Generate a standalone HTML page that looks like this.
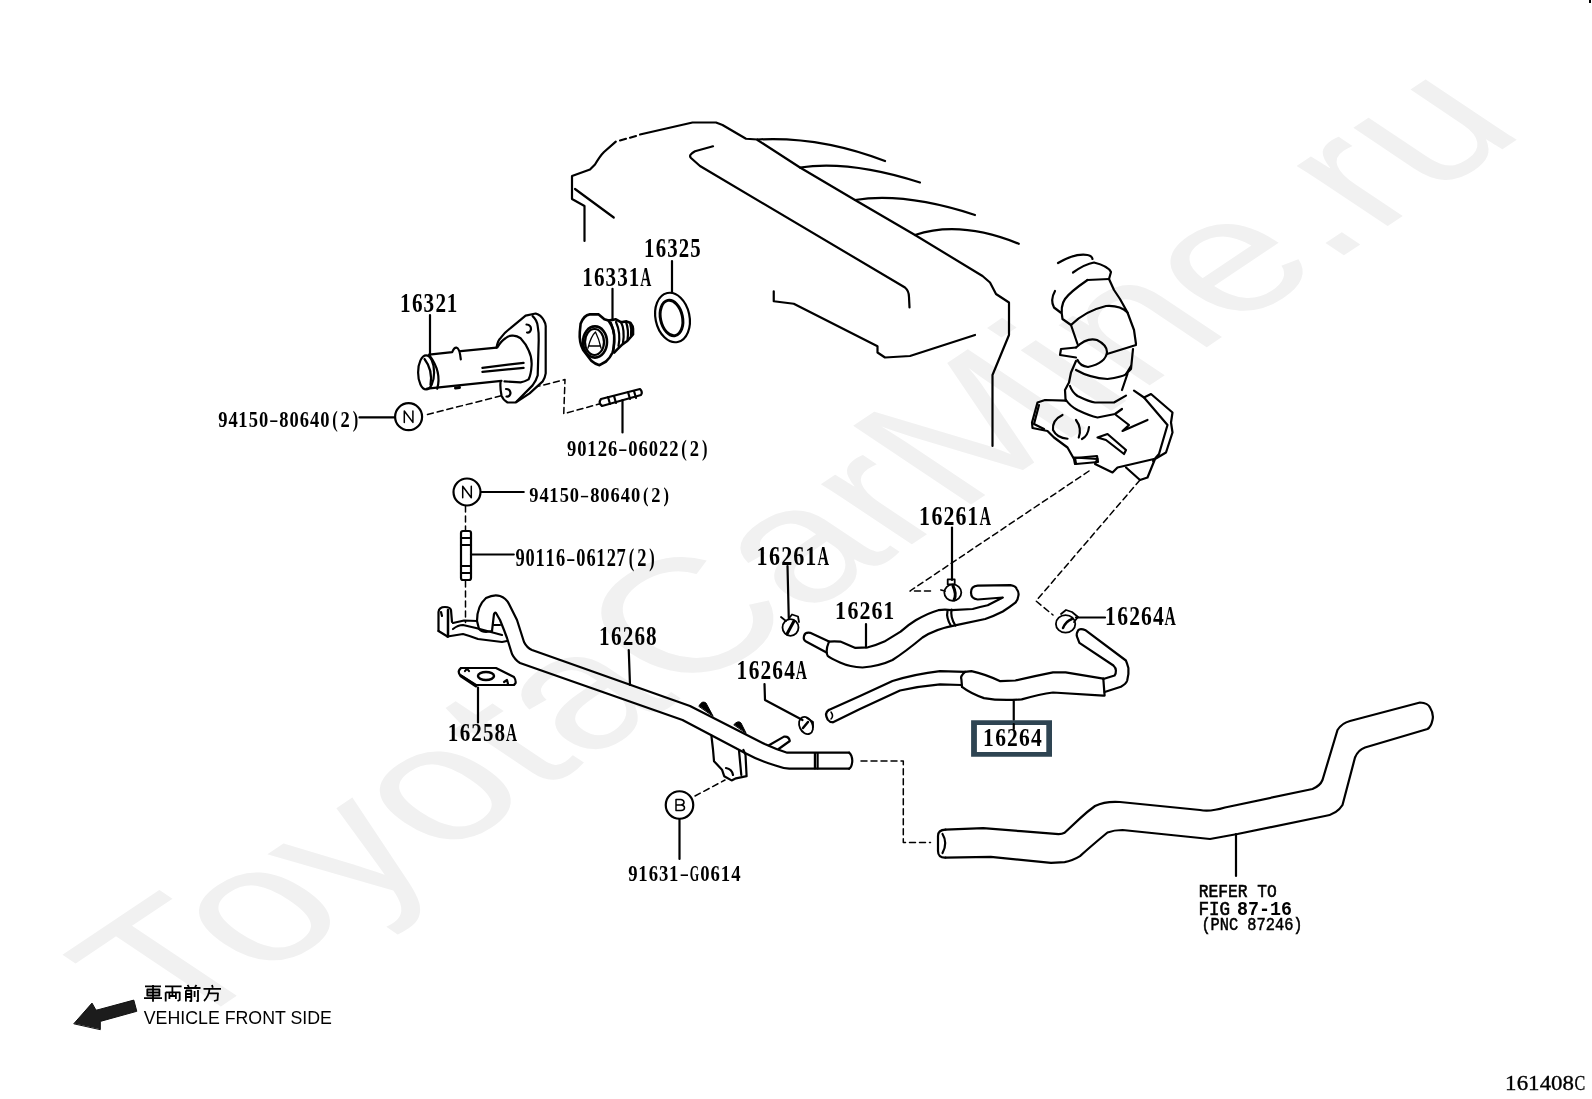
<!DOCTYPE html>
<html><head><meta charset="utf-8"><style>
html,body{margin:0;padding:0;background:#fff;width:1592px;height:1099px;overflow:hidden}
svg{display:block;will-change:transform}
</style></head><body>
<svg width="1592" height="1099" viewBox="0 0 1592 1099">
<rect width="1592" height="1099" fill="#fff"/>
<text transform="matrix(0.69903,-0.46749,0.69903,0.46749,176.55,1035.98)" font-family="Liberation Sans" font-size="245" fill="#f1f1f1">ToyotaCarMine.ru</text>

<g fill="none" stroke="#000" stroke-width="2.2" stroke-linejoin="round" stroke-linecap="round">
<!-- ENGINE OUTLINE -->
<path d="M584.5,241 L584.5,206 L572,199 L572,176 L590,169.5 L595,164.5 Q600,156 604,152 L615.8,141.7 M620,140.5 L626,138.8 M630,137.7 L636,136 M640,134.5 L692.5,122.5 L716,122.5 L722.5,125 L746,138.75 L757.5,139.5"/>
<path d="M757.5,139.5 Q820,136 885,161"/>
<path d="M575,189 L613.75,217.5"/>
<path d="M713,146.25 L695,151.25 Q688,155 691,158 L700,166 L905,287.5 Q909,291 909,297 L909.5,307.5"/>
<path d="M757.5,140 L800,167.5 L855,200 L915,235 L982.5,276 L990,282.5 L996,294 L1009,302.5 L1009,335 L992.5,375 L992.5,446"/>
<path d="M800,167.5 Q850,160 920,182.5"/>
<path d="M855,200 Q905,192 975,215"/>
<path d="M915,235 Q960,220 1018.75,243.75"/>
<path d="M773.75,291.25 L773.75,301.25 L793.75,303.75 L877.5,346.25 L877.5,352.5 L885,357.5 L910,356 L975,335"/>

<!-- WATER OUTLET (upper) -->
<path d="M1058,263 Q1075,253 1087.5,255 Q1092,256 1092.5,259"/>
<path d="M1073,272.5 Q1085,264 1094,262.5 Q1108,266 1111,272 L1109,279"/>
<path d="M1087.5,280 L1109,279"/>
<path d="M1087.5,280 Q1070,292 1065,299 Q1060,306 1062.5,319 L1071,325 L1077.5,344"/>
<path d="M1055,291 Q1050,300 1054,307.5 L1060.6,312.5"/>
<path d="M1109,279 L1114,290 L1120,299 L1127.5,312.5 L1134,330 L1136,344"/>
<path d="M1071,325 Q1085,311 1106,306 Q1120,305 1127.5,312.5"/>
<path d="M1076,347.5 Q1087,337 1097,340 Q1107,345 1107,352 Q1106,363 1088,367 Q1080,366 1077.5,360"/>
<path d="M1076,347.5 L1061,349 L1060,355 L1076,357.5"/>
<path d="M1107,354 L1136,345"/>
<path d="M1133,349 L1131,369 L1126,374"/>
<path d="M1076,361 L1071,372.5 L1069,382.5 L1065,390 L1065.6,400.6"/>
<!-- WATER OUTLET (lower) -->
<path d="M1076,370 Q1090,378 1107.5,379 Q1122,377 1126,374.4 L1131,366"/>
<path d="M1127.5,373.75 L1122,390"/>
<path d="M1070,386 Q1072,392 1077.5,396 Q1090,402 1095,402.5 L1114,402.5 L1126,395.6"/>
<path d="M1066,400 Q1070,406 1077.5,410 Q1090,416 1097.5,417.5 L1115,414 L1122,409"/>
<path d="M1066,400.6 L1045,400 L1037.5,402.5 L1032,422.5 L1032.5,428 L1047.5,431 L1054,437.5 L1067.5,447.5 L1074,459 L1075,464"/>
<path d="M1039,405 L1034,424 L1044,429"/>
<path d="M1062.5,415 Q1052,420 1053,430 Q1057,438 1067.5,438.75"/>
<path d="M1076,420 Q1082,428 1078.75,437.5 M1089,427 Q1088,436 1082,439"/>
<path d="M1074,457.5 L1097.5,459 L1095,464 L1112.5,472.5 L1117.5,467.5 L1154,459"/>
<path d="M1134,390.6 L1144,397.5 L1151,394 L1172.5,412.5 L1171,422.5 L1172.5,432.5 L1166,452.5 L1155,459 L1147.5,477.5 L1140,480 L1126,467.5"/>
<path d="M1144,397.5 L1167.5,425 L1159,454 L1153,461"/>
<path d="M1097.5,437.5 L1107.5,434 L1126,450 L1124,454 L1106,440 Z"/>
<path d="M1116,415 L1129,425 L1122.5,431 L1147.5,420"/>
<path d="M1075,458 L1097,456 L1098,462 L1076,464 Z"/>

<!-- DASHED LINES -->
<g stroke-dasharray="6,4" stroke-width="1.5">
<path d="M1089,471 L910,591 L932,591"/>
<path d="M1140,480 L1036,601 L1053,615"/>
<path d="M427.5,414.5 L565,379.5 L563.75,413.75 L600,403.75"/>
<path d="M465.5,506 L465.5,531"/>
<path d="M465.5,581 L465.5,622.5"/>
<path d="M695,796 L725,780"/>
<path d="M861,761 L903.3,761 L903.3,842.5 L930.5,842.5"/>
</g>

<!-- 16321 WATER INLET -->
<path fill="#fff" d="M496.5,347.7 Q498,340 500.5,338.2 Q505,332 510.5,328.1 L525.6,315.6 L535.7,313.5 Q541,315 543.7,320.1 Q546,324 545.7,327.1 L545.7,373.3 Q545,378 542.7,381.4 L529.6,393.4 L515.6,402.5 L507.5,402.5 Q503,400 501.5,395.5 Q500,388 500.5,382.4"/>
<ellipse cx="426.1" cy="372.4" rx="8" ry="17"/>
<path d="M429.5,355.3 Q442,372 437.2,388.8"/>
<path d="M424.5,359 Q433,370 430.5,385"/>
<path d="M429.1,354.7 L452.2,352.2 Q454,347.5 456.5,347.7 Q459.5,348 460.8,359.3 M460.8,351.2 L496.5,347.7"/>
<path d="M427.1,388.6 L501.5,380.9"/>
<path d="M455.5,388 L459.5,387.5" stroke-width="3"/>
<path d="M482.4,367.8 L523.6,362.8 M482.4,371.8 L523.6,367.8"/>
<path d="M532.6,316.1 Q537,320 537.7,326.1 Q539,333 538.7,340.2 L537.7,375.4 Q536,381 532.6,385.4 L516.6,401.5"/>
<path d="M497.5,347.2 Q501,341 505.5,338.2 Q509,335 513.5,335.7 Q517,336 520.6,338.2 Q526,344 528.6,350.2 Q532,357 531.6,365.3 Q531,375 528.6,379.4 Q524,382 520.6,382.4 L504.5,381.4"/>
<path d="M526.5,324.5 Q531,325 531,329 Q530.5,333 527,332.5"/>
<path d="M506,389 Q510,389 510.5,393 Q510,397 506.5,396.5"/>

<!-- 16331A THERMOSTAT -->
<g stroke-width="2.6">
<path d="M580.6,323.8 Q584,315 589.7,314.4 L598.7,314.4 L604.4,319.3 L608.5,320.6 Q615,330 614.2,339.4 Q614,348 612.6,352.5 Q610,358 606,361.5 L599.5,365.2 Q595,364 591.3,360.7 L583.1,350 Q579,342 579.8,332 Z"/>
<ellipse cx="595" cy="342" rx="12" ry="15.6"/>
<path d="M608.5,320.6 L615.9,319.3 L620.8,322.2 L626.5,321.4 L630.6,323 Q633,326 633,328.8 L633,334.5 L627.3,341 L622.4,344.3 L617.5,349.2 L614.2,352.5"/>
</g>
<ellipse cx="594.5" cy="342" rx="9.5" ry="13"/>
<path d="M588,348 Q591,336 595.5,332 Q599,339 601,348 M589.5,346 L599.5,346" stroke-width="1.3"/>
<path d="M611,323 Q616,335 613.5,349 M616,322 Q621,333 618.5,346 M621,322 Q625,330 623,343 M626,322 Q629,330 627.5,340 M630,323 Q632,329 631,336"/>

<!-- 16325 GASKET -->
<ellipse cx="672.5" cy="317.5" rx="17" ry="25" transform="rotate(-12 672.5 317.5)"/>
<ellipse cx="671.5" cy="318" rx="11" ry="18" transform="rotate(-12 671.5 318)" stroke-width="3"/>

<!-- STUD 90126 -->
<path d="M601,399 L640,389 Q643,392 641,395 L602,406 Q598,403 601,399 Z"/>
<path d="M608,397 L610,404 M614,396 L616,403 M628,392 L630,399 M634,391 L636,398"/>

<!-- N circles, B circle -->
<circle cx="408.6" cy="416.7" r="13.5"/>
<circle cx="467" cy="492" r="13.5"/>
<circle cx="679.5" cy="805" r="13.75"/>
<path d="M359.5,417.4 L395,417.4"/>
<path d="M481,492 L523.75,492"/>
<path d="M679.5,819 L679.5,859"/>

<!-- STUD 90116 -->
<rect x="461" y="531" width="10" height="49" rx="2"/>
<path d="M461,538 L471,538 M461,545 L471,545 M461,566 L471,566 M461,573 L471,573"/>
<path d="M471,554.5 L513.75,554.5"/>

<!-- Leaders -->
<path d="M430,315 L430,355"/>
<path d="M612.5,288.75 L612.5,320"/>
<path d="M672,261 L672,292.5"/>
<path d="M622.5,400 L622.5,432.5"/>
<path d="M787.5,566 L788.75,617.5"/>
<path d="M764.5,684 L765,700 L802.5,720"/>
<path d="M628.75,650 L630,685"/>
<path d="M478,687.5 L478,722.5"/>
<path d="M952,527.5 L952,580"/>
<path d="M866,624 L866,647.5"/>
<path d="M1076,617.5 L1105,617.5"/>
<path d="M1013.75,701 L1013.75,720"/>
<path d="M1236,834 L1236,876"/>

<!-- 16268 PIPE -->
<path d="M477,621 Q477,606 486,598 Q494,594 500,596 Q506,598 509,604 L517,620 L524,642 Q527,648 532,650 L690,706 L764.7,744.1 Q775,749 787.2,752.7 L849.1,752.7"/>
<path d="M477,621 L479,629 Q482,632 486,632 L492,631 L494,614 Q495,612 496,613 L500,620 L504,630 L507,638 L512,654 Q515,660 520,663 L682.5,720 L745.5,753.2 Q760,761 775.4,765.5 Q782,768 789.3,768.7 L849.1,768.7"/>
<path d="M849.1,752.7 Q852,755 852.3,760.7 Q852,767 849.1,768.7"/>
<path d="M814.9,753 L814.9,768.5 M817.6,753 L817.6,768.5"/>
<path d="M494,625 L500,625"/>
<path d="M699,706 Q702,700 706,703 L713,716 Z M734,724.5 Q738,720 741,723 L746,733 Z" fill="#000" stroke-width="1"/>
<path d="M769,745.2 L784,736.6 Q789,736 789.8,741 L778.6,749"/>
<path d="M711.4,735.6 L713,749.5 L714,761.2 L722,769.7 L724.2,776.2 L731.6,780.4 L736,778.3 L746.6,776.2 L745.5,754.8 L743.4,750"/>
<path d="M739,750.5 L741.3,775 M726,768 Q732,769 733,775"/>
<!-- bracket -->
<path d="M438.5,631 L438.5,612 Q439,607 445,607 Q450,607 451,610 L452,622"/>
<path d="M448,610 L448,636.5" stroke-width="2.5"/>
<path d="M438.5,631 L447.5,636.5 M441,612 L442,616"/>
<path d="M453,623 L464,620.5 L477,621"/>
<path d="M453,629 Q458,625 463,625 L476,628 L502,635"/>
<path d="M447.5,636.5 L463,634 Q470,636 478,639 L502,642 L507,641"/>

<!-- 16258A GASKET -->
<path d="M460,675 Q457,671 461,668 L496,668 L514,677 Q516,680 515.6,683 L514,685 L476,685 Z"/>
<path d="M461,676 L476,686" stroke-width="3"/>
<ellipse cx="486" cy="676" rx="8" ry="4" stroke-width="2.5"/>
<path d="M465,671 Q467,668 469,671 M504,682 L507,680 L508,684"/>

<!-- 16261 HOSE -->
<path d="M829,641.6 Q834,641 840.3,641.6 L855.4,647.9 L868,647.3 Q877,645 884.3,641.6 L900.6,631.6 Q908,625 915.7,620.3 Q928,613 938.3,610.2 Q945,609 951.3,610.2 L972.7,609 Q980,607 987.7,605.2 L1002.8,597.5 L977.7,599.5 Q971,599 971,592.6 Q971,586 977.7,585.7 L1010.4,585.1 Q1016,586 1016.6,588.8 Q1019,592 1018.5,595.1 Q1018,600 1015.4,602.7 Q1010,607 1002.8,611.5 Q994,616 985.2,619 L955,625.3 Q935,629 922.5,637.5 Q905,652 892.5,660 Q880,666 862.5,667.5 Q850,667 840,662.5 Q830,658 827.8,656 Q825,651 829,641.6"/>
<path d="M947.5,611 Q946,618 951,625.8 M951.6,609.5 Q950,617 955.4,625.5"/>
<path d="M829,641.6 L810.2,632.8 Q805,632 804,636 Q803,640 806,641.5 L826.5,652.5"/>

<!-- 16264 HOSE -->
<path d="M828.8,710 L860,696 L892.5,681 Q915,674 940,671.1 L965.1,671.8"/>
<path d="M833,722.2 L860,708.9 L900,690.5 Q920,686 940,684.3 L961.4,685"/>
<path d="M828.8,710 Q824,713 827.7,719.6 Q830,722.5 833,722.2"/>
<path d="M831,712 Q834,716 831,719" stroke-width="1.5"/>
<path d="M965.1,671.8 L971.4,671.1 Q985,674 1000.3,681.2 L1015.4,680.5 Q1035,676 1053,672.4 L1065.6,672.4 L1103.3,678.7"/>
<path d="M962,686.8 Q970,693 984,698.1 Q1000,701 1021.7,699.4 Q1040,694 1053,692.5 L1103.3,695.6"/>
<path d="M965.1,671.8 Q960,676 961.4,679.3 L962,686.8"/>
<path d="M1103.3,678.7 L1104.6,695.6"/>
<path d="M1104.6,692 L1120.9,686.8 Q1126,684 1127.2,680.5 Q1129,674 1128.4,668 Q1127,663 1125.9,660.5 L1085.7,630.3 Q1080,628 1078.2,630.3 Q1076,634 1077,636.6 L1079.4,642.9 L1113.4,665.5 Q1116,668 1115.9,670.5 Q1116,674 1114.6,675.5 L1103.3,679"/>

<!-- BIG HOSE -->
<path d="M945.5,829.7 L983.2,828.2 L1021,831.2 L1058.6,834.2 Q1062,834 1064.6,832.7 L1080,818.4 Q1088,811 1095,806 Q1105,801 1120,802 L1200,810 Q1210,812 1225,807.5 L1312.5,789 Q1320,786 1322.5,780 L1337.5,730 Q1342,723 1350,721 L1420,702.5 Q1428,703 1430,707.5 Q1434,714 1432.5,720 Q1431,727 1427.5,729 L1365,747.5 Q1358,750 1355,757.5 L1342.5,805 Q1337,814 1325,816 L1237.5,834 L1210,839 L1122.5,830 Q1114,830 1107.5,832.5 Q1090,847 1080,856.1 Q1072,861 1064.6,862.1 L1051,862.9 L990.8,856.8 L945.5,857.6"/>
<path d="M945.5,829.7 Q938,830 938,836 L938,851 Q938,858 945.5,857.6"/>
<path d="M942.5,834 Q948,843 942.5,853"/>

<!-- CLIPS -->
<g stroke-width="1.8">
<ellipse cx="790.5" cy="627.5" rx="8" ry="8.3"/>
<path d="M788,619.5 L792,614.5 L798,616.5 L799,622"/>
<path d="M787,634 L794,621" stroke-width="3"/>
<path d="M781,617 L786,621"/>
<rect x="947.7" y="579.4" width="7" height="5"/>
<ellipse cx="952.8" cy="592.6" rx="8.5" ry="8.2"/>
<path d="M953,586 Q957,594 954,600" stroke-width="3"/>
<path d="M941,590 L945,591"/>
<ellipse cx="1065.6" cy="623.9" rx="9.7" ry="8.8"/>
<path d="M1061,614 L1066,610 L1072,612 L1078,617 L1074,622"/>
<path d="M1063,628 Q1066,621 1072,619" stroke-width="2.5"/>
<ellipse cx="806" cy="725.5" rx="6.5" ry="9" transform="rotate(-25 806 725.5)"/>
<path d="M807,718 L813,722 L813,727"/>
<path d="M803,728 L808,722" stroke-width="2.5"/>
</g>

<!-- 16264 BOX -->
<path d="M971.1,720.2 H1052 V756.8 H971.1 Z M976.9,724.9 V752 H1046.3 V724.9 Z" fill="#2e4452" fill-rule="evenodd" stroke="none"/>
<path d="M1013.75,724 L1013.75,729"/>

<!-- ARROW -->
<path d="M74,1023.5 L92,1003.1 L96,1010.2 L99,1009.5 L133.8,1000.1 L136.8,1011.3 L100.3,1021.4 L100.3,1029.3 Z" fill="#1c1c1c" stroke="#111" stroke-width="1"/>

<!-- JAPANESE 車両前方 -->
<g stroke-width="1.8" stroke-linecap="butt">
<path d="M145,986.3 L161,986.3 M147.3,989.5 L159.4,989.5 L159.4,995.5 L147.3,995.5 Z M147.3,992.5 L159.4,992.5 M144,998.2 L162,998.2 M153,985 L153,1001.7"/>
<path d="M165,986.3 L181.6,986.3 M165.7,992.3 L165.7,1001.4 M165.7,992.3 L179.7,992.3 L179.7,1000 L177.5,1001 M172.4,986.3 L172.4,996 M169.4,993 L169.4,999 M175.9,993 L175.9,999 M169.4,996 L175.9,996"/>
<path d="M187.5,985 L189,987 M196.5,985 L195,987 M184,988 L200.5,988 M185.9,990.5 L191.3,990.5 L191.3,1001 L189.5,1001 M185.9,990.5 L185.9,1001.4 M185.9,994 L191.3,994 M185.9,997 L191.3,997 M194.6,991 L194.6,997 M198,990 L198,1001 L196.5,1001"/>
<path d="M212,985 L212.8,987.8 M203.5,988.8 L221,988.8 M209.5,993.3 L218,993.3 L217.5,1000 L214,1001 M209.5,989 Q209,996 204,1001"/>
</g>
<!-- N B glyphs -->
<path d="M404.3,422.4 L404.3,411 L412.9,422.4 L412.9,411" stroke-width="1.5"/>
<path d="M462.7,497.7 L462.7,486.3 L471.3,497.7 L471.3,486.3" stroke-width="1.5"/>
<path d="M676,810.5 L676,799.5 L681,799.5 Q684,800 684,802.5 Q684,804.5 681,805 L676,805 L681.5,805 Q684.5,805.5 684.5,807.8 Q684.5,810.5 681,810.5 Z" stroke-width="1.5"/>
<rect x="1589" y="0" width="2" height="3" fill="#000" stroke="none"/>

</g>
<g fill="#000">
<text transform="translate(644.03,256.72) scale(0.745,1)" font-family="Liberation Serif" font-weight="bold" font-size="27.97">1</text><text transform="translate(655.83,256.72) scale(0.745,1)" font-family="Liberation Serif" font-weight="bold" font-size="27.97">6</text><text transform="translate(667.22,256.72) scale(0.745,1)" font-family="Liberation Serif" font-weight="bold" font-size="27.97">3</text><text transform="translate(678.81,256.72) scale(0.745,1)" font-family="Liberation Serif" font-weight="bold" font-size="27.97">2</text><text transform="translate(690.30,256.72) scale(0.745,1)" font-family="Liberation Serif" font-weight="bold" font-size="27.97">5</text>
<text transform="translate(582.16,285.53) scale(0.788,1)" font-family="Liberation Serif" font-weight="bold" font-size="26.77">1</text><text transform="translate(594.10,285.53) scale(0.788,1)" font-family="Liberation Serif" font-weight="bold" font-size="26.77">6</text><text transform="translate(605.61,285.53) scale(0.788,1)" font-family="Liberation Serif" font-weight="bold" font-size="26.77">3</text><text transform="translate(617.24,285.53) scale(0.788,1)" font-family="Liberation Serif" font-weight="bold" font-size="26.77">3</text><text transform="translate(628.64,285.53) scale(0.788,1)" font-family="Liberation Serif" font-weight="bold" font-size="26.77">1</text><text transform="translate(640.35,285.53) scale(0.571,1)" font-family="Liberation Serif" font-weight="bold" font-size="26.77">A</text>
<text transform="translate(400.06,311.73) scale(0.782,1)" font-family="Liberation Serif" font-weight="bold" font-size="27.07">1</text><text transform="translate(412.04,311.73) scale(0.782,1)" font-family="Liberation Serif" font-weight="bold" font-size="27.07">6</text><text transform="translate(423.60,311.73) scale(0.782,1)" font-family="Liberation Serif" font-weight="bold" font-size="27.07">3</text><text transform="translate(435.38,311.73) scale(0.782,1)" font-family="Liberation Serif" font-weight="bold" font-size="27.07">2</text><text transform="translate(446.73,311.73) scale(0.782,1)" font-family="Liberation Serif" font-weight="bold" font-size="27.07">1</text>
<text transform="translate(218.25,426.57) scale(0.810,1)" font-family="Liberation Serif" font-weight="bold" font-size="22.86">9</text><text transform="translate(228.45,426.57) scale(0.810,1)" font-family="Liberation Serif" font-weight="bold" font-size="22.86">4</text><text transform="translate(238.28,426.57) scale(0.810,1)" font-family="Liberation Serif" font-weight="bold" font-size="22.86">1</text><text transform="translate(248.76,426.57) scale(0.810,1)" font-family="Liberation Serif" font-weight="bold" font-size="22.86">5</text><text transform="translate(258.97,426.57) scale(0.810,1)" font-family="Liberation Serif" font-weight="bold" font-size="22.86">0</text><text transform="translate(270.26,426.57) scale(0.618,1)" font-family="Liberation Serif" font-weight="bold" font-size="22.86">–</text><text transform="translate(279.37,426.57) scale(0.810,1)" font-family="Liberation Serif" font-weight="bold" font-size="22.86">8</text><text transform="translate(289.57,426.57) scale(0.810,1)" font-family="Liberation Serif" font-weight="bold" font-size="22.86">0</text><text transform="translate(299.78,426.57) scale(0.810,1)" font-family="Liberation Serif" font-weight="bold" font-size="22.86">6</text><text transform="translate(310.07,426.57) scale(0.810,1)" font-family="Liberation Serif" font-weight="bold" font-size="22.86">4</text><text transform="translate(320.18,426.57) scale(0.810,1)" font-family="Liberation Serif" font-weight="bold" font-size="22.86">0</text><text transform="translate(332.21,426.57) scale(0.721,1)" font-family="Liberation Serif" font-weight="bold" font-size="22.86">(</text><text transform="translate(340.59,426.57) scale(0.810,1)" font-family="Liberation Serif" font-weight="bold" font-size="22.86">2</text><text transform="translate(352.78,426.57) scale(0.721,1)" font-family="Liberation Serif" font-weight="bold" font-size="22.86">)</text>
<text transform="translate(567.05,455.76) scale(0.772,1)" font-family="Liberation Serif" font-weight="bold" font-size="24.06">9</text><text transform="translate(577.19,455.76) scale(0.772,1)" font-family="Liberation Serif" font-weight="bold" font-size="24.06">0</text><text transform="translate(587.15,455.76) scale(0.772,1)" font-family="Liberation Serif" font-weight="bold" font-size="24.06">1</text><text transform="translate(597.66,455.76) scale(0.772,1)" font-family="Liberation Serif" font-weight="bold" font-size="24.06">2</text><text transform="translate(607.89,455.76) scale(0.772,1)" font-family="Liberation Serif" font-weight="bold" font-size="24.06">6</text><text transform="translate(619.23,455.76) scale(0.589,1)" font-family="Liberation Serif" font-weight="bold" font-size="24.06">–</text><text transform="translate(628.37,455.76) scale(0.772,1)" font-family="Liberation Serif" font-weight="bold" font-size="24.06">0</text><text transform="translate(638.60,455.76) scale(0.772,1)" font-family="Liberation Serif" font-weight="bold" font-size="24.06">6</text><text transform="translate(648.84,455.76) scale(0.772,1)" font-family="Liberation Serif" font-weight="bold" font-size="24.06">0</text><text transform="translate(659.07,455.76) scale(0.772,1)" font-family="Liberation Serif" font-weight="bold" font-size="24.06">2</text><text transform="translate(669.31,455.76) scale(0.772,1)" font-family="Liberation Serif" font-weight="bold" font-size="24.06">2</text><text transform="translate(681.37,455.76) scale(0.687,1)" font-family="Liberation Serif" font-weight="bold" font-size="24.06">(</text><text transform="translate(689.78,455.76) scale(0.772,1)" font-family="Liberation Serif" font-weight="bold" font-size="24.06">2</text><text transform="translate(702.01,455.76) scale(0.687,1)" font-family="Liberation Serif" font-weight="bold" font-size="24.06">)</text>
<text transform="translate(529.25,501.59) scale(0.896,1)" font-family="Liberation Serif" font-weight="bold" font-size="20.60">9</text><text transform="translate(539.42,501.59) scale(0.896,1)" font-family="Liberation Serif" font-weight="bold" font-size="20.60">4</text><text transform="translate(549.23,501.59) scale(0.896,1)" font-family="Liberation Serif" font-weight="bold" font-size="20.60">1</text><text transform="translate(559.68,501.59) scale(0.896,1)" font-family="Liberation Serif" font-weight="bold" font-size="20.60">5</text><text transform="translate(569.85,501.59) scale(0.896,1)" font-family="Liberation Serif" font-weight="bold" font-size="20.60">0</text><text transform="translate(581.12,501.59) scale(0.684,1)" font-family="Liberation Serif" font-weight="bold" font-size="20.60">–</text><text transform="translate(590.20,501.59) scale(0.896,1)" font-family="Liberation Serif" font-weight="bold" font-size="20.60">8</text><text transform="translate(600.37,501.59) scale(0.896,1)" font-family="Liberation Serif" font-weight="bold" font-size="20.60">0</text><text transform="translate(610.55,501.59) scale(0.896,1)" font-family="Liberation Serif" font-weight="bold" font-size="20.60">6</text><text transform="translate(620.81,501.59) scale(0.896,1)" font-family="Liberation Serif" font-weight="bold" font-size="20.60">4</text><text transform="translate(630.89,501.59) scale(0.896,1)" font-family="Liberation Serif" font-weight="bold" font-size="20.60">0</text><text transform="translate(642.89,501.59) scale(0.798,1)" font-family="Liberation Serif" font-weight="bold" font-size="20.60">(</text><text transform="translate(651.24,501.59) scale(0.896,1)" font-family="Liberation Serif" font-weight="bold" font-size="20.60">2</text><text transform="translate(663.40,501.59) scale(0.798,1)" font-family="Liberation Serif" font-weight="bold" font-size="20.60">)</text>
<text transform="translate(515.55,565.75) scale(0.742,1)" font-family="Liberation Serif" font-weight="bold" font-size="24.81">9</text><text transform="translate(525.60,565.75) scale(0.742,1)" font-family="Liberation Serif" font-weight="bold" font-size="24.81">0</text><text transform="translate(535.47,565.75) scale(0.742,1)" font-family="Liberation Serif" font-weight="bold" font-size="24.81">1</text><text transform="translate(545.62,565.75) scale(0.742,1)" font-family="Liberation Serif" font-weight="bold" font-size="24.81">1</text><text transform="translate(556.04,565.75) scale(0.742,1)" font-family="Liberation Serif" font-weight="bold" font-size="24.81">6</text><text transform="translate(567.27,565.75) scale(0.566,1)" font-family="Liberation Serif" font-weight="bold" font-size="24.81">–</text><text transform="translate(576.33,565.75) scale(0.742,1)" font-family="Liberation Serif" font-weight="bold" font-size="24.81">0</text><text transform="translate(586.47,565.75) scale(0.742,1)" font-family="Liberation Serif" font-weight="bold" font-size="24.81">6</text><text transform="translate(596.34,565.75) scale(0.742,1)" font-family="Liberation Serif" font-weight="bold" font-size="24.81">1</text><text transform="translate(606.76,565.75) scale(0.742,1)" font-family="Liberation Serif" font-weight="bold" font-size="24.81">2</text><text transform="translate(616.54,565.75) scale(0.742,1)" font-family="Liberation Serif" font-weight="bold" font-size="24.81">7</text><text transform="translate(628.87,565.75) scale(0.660,1)" font-family="Liberation Serif" font-weight="bold" font-size="24.81">(</text><text transform="translate(637.20,565.75) scale(0.742,1)" font-family="Liberation Serif" font-weight="bold" font-size="24.81">2</text><text transform="translate(649.32,565.75) scale(0.660,1)" font-family="Liberation Serif" font-weight="bold" font-size="24.81">)</text>
<text transform="translate(756.52,564.74) scale(0.838,1)" font-family="Liberation Serif" font-weight="bold" font-size="26.32">1</text><text transform="translate(769.01,564.74) scale(0.838,1)" font-family="Liberation Serif" font-weight="bold" font-size="26.32">6</text><text transform="translate(781.16,564.74) scale(0.838,1)" font-family="Liberation Serif" font-weight="bold" font-size="26.32">2</text><text transform="translate(793.32,564.74) scale(0.838,1)" font-family="Liberation Serif" font-weight="bold" font-size="26.32">6</text><text transform="translate(805.14,564.74) scale(0.838,1)" font-family="Liberation Serif" font-weight="bold" font-size="26.32">1</text><text transform="translate(817.39,564.74) scale(0.607,1)" font-family="Liberation Serif" font-weight="bold" font-size="26.32">A</text>
<text transform="translate(919.03,524.74) scale(0.832,1)" font-family="Liberation Serif" font-weight="bold" font-size="26.32">1</text><text transform="translate(931.42,524.74) scale(0.832,1)" font-family="Liberation Serif" font-weight="bold" font-size="26.32">6</text><text transform="translate(943.49,524.74) scale(0.832,1)" font-family="Liberation Serif" font-weight="bold" font-size="26.32">2</text><text transform="translate(955.56,524.74) scale(0.832,1)" font-family="Liberation Serif" font-weight="bold" font-size="26.32">6</text><text transform="translate(967.30,524.74) scale(0.832,1)" font-family="Liberation Serif" font-weight="bold" font-size="26.32">1</text><text transform="translate(979.46,524.74) scale(0.603,1)" font-family="Liberation Serif" font-weight="bold" font-size="26.32">A</text>
<text transform="translate(835.02,618.75) scale(0.883,1)" font-family="Liberation Serif" font-weight="bold" font-size="24.81">1</text><text transform="translate(847.44,618.75) scale(0.883,1)" font-family="Liberation Serif" font-weight="bold" font-size="24.81">6</text><text transform="translate(859.52,618.75) scale(0.883,1)" font-family="Liberation Serif" font-weight="bold" font-size="24.81">2</text><text transform="translate(871.60,618.75) scale(0.883,1)" font-family="Liberation Serif" font-weight="bold" font-size="24.81">6</text><text transform="translate(883.36,618.75) scale(0.883,1)" font-family="Liberation Serif" font-weight="bold" font-size="24.81">1</text>
<text transform="translate(1105.04,624.74) scale(0.820,1)" font-family="Liberation Serif" font-weight="bold" font-size="26.32">1</text><text transform="translate(1117.26,624.74) scale(0.820,1)" font-family="Liberation Serif" font-weight="bold" font-size="26.32">6</text><text transform="translate(1129.16,624.74) scale(0.820,1)" font-family="Liberation Serif" font-weight="bold" font-size="26.32">2</text><text transform="translate(1141.05,624.74) scale(0.820,1)" font-family="Liberation Serif" font-weight="bold" font-size="26.32">6</text><text transform="translate(1153.06,624.74) scale(0.820,1)" font-family="Liberation Serif" font-weight="bold" font-size="26.32">4</text><text transform="translate(1164.61,624.74) scale(0.594,1)" font-family="Liberation Serif" font-weight="bold" font-size="26.32">A</text>
<text transform="translate(599.06,644.74) scale(0.804,1)" font-family="Liberation Serif" font-weight="bold" font-size="26.32">1</text><text transform="translate(611.04,644.74) scale(0.804,1)" font-family="Liberation Serif" font-weight="bold" font-size="26.32">6</text><text transform="translate(622.71,644.74) scale(0.804,1)" font-family="Liberation Serif" font-weight="bold" font-size="26.32">2</text><text transform="translate(634.38,644.74) scale(0.804,1)" font-family="Liberation Serif" font-weight="bold" font-size="26.32">6</text><text transform="translate(646.04,644.74) scale(0.804,1)" font-family="Liberation Serif" font-weight="bold" font-size="26.32">8</text>
<text transform="translate(736.55,678.73) scale(0.791,1)" font-family="Liberation Serif" font-weight="bold" font-size="27.07">1</text><text transform="translate(748.68,678.73) scale(0.791,1)" font-family="Liberation Serif" font-weight="bold" font-size="27.07">6</text><text transform="translate(760.49,678.73) scale(0.791,1)" font-family="Liberation Serif" font-weight="bold" font-size="27.07">2</text><text transform="translate(772.30,678.73) scale(0.791,1)" font-family="Liberation Serif" font-weight="bold" font-size="27.07">6</text><text transform="translate(784.22,678.73) scale(0.791,1)" font-family="Liberation Serif" font-weight="bold" font-size="27.07">4</text><text transform="translate(795.69,678.73) scale(0.573,1)" font-family="Liberation Serif" font-weight="bold" font-size="27.07">A</text>
<text transform="translate(447.81,740.74) scale(0.811,1)" font-family="Liberation Serif" font-weight="bold" font-size="25.94">1</text><text transform="translate(459.72,740.74) scale(0.811,1)" font-family="Liberation Serif" font-weight="bold" font-size="25.94">6</text><text transform="translate(471.32,740.74) scale(0.811,1)" font-family="Liberation Serif" font-weight="bold" font-size="25.94">2</text><text transform="translate(482.91,740.74) scale(0.811,1)" font-family="Liberation Serif" font-weight="bold" font-size="25.94">5</text><text transform="translate(494.51,740.74) scale(0.811,1)" font-family="Liberation Serif" font-weight="bold" font-size="25.94">8</text><text transform="translate(505.88,740.74) scale(0.587,1)" font-family="Liberation Serif" font-weight="bold" font-size="25.94">A</text>
<text transform="translate(983.04,745.74) scale(0.843,1)" font-family="Liberation Serif" font-weight="bold" font-size="25.56">1</text><text transform="translate(995.24,745.74) scale(0.843,1)" font-family="Liberation Serif" font-weight="bold" font-size="25.56">6</text><text transform="translate(1007.11,745.74) scale(0.843,1)" font-family="Liberation Serif" font-weight="bold" font-size="25.56">2</text><text transform="translate(1018.99,745.74) scale(0.843,1)" font-family="Liberation Serif" font-weight="bold" font-size="25.56">6</text><text transform="translate(1030.97,745.74) scale(0.843,1)" font-family="Liberation Serif" font-weight="bold" font-size="25.56">4</text>
<text transform="translate(628.29,880.77) scale(0.828,1)" font-family="Liberation Serif" font-weight="bold" font-size="22.56">9</text><text transform="translate(638.22,880.77) scale(0.828,1)" font-family="Liberation Serif" font-weight="bold" font-size="22.56">1</text><text transform="translate(648.80,880.77) scale(0.828,1)" font-family="Liberation Serif" font-weight="bold" font-size="22.56">6</text><text transform="translate(659.01,880.77) scale(0.828,1)" font-family="Liberation Serif" font-weight="bold" font-size="22.56">3</text><text transform="translate(669.12,880.77) scale(0.828,1)" font-family="Liberation Serif" font-weight="bold" font-size="22.56">1</text><text transform="translate(680.81,880.77) scale(0.632,1)" font-family="Liberation Serif" font-weight="bold" font-size="22.56">–</text><text transform="translate(689.85,880.77) scale(0.535,1)" font-family="Liberation Serif" font-weight="bold" font-size="22.56">G</text><text transform="translate(700.31,880.77) scale(0.828,1)" font-family="Liberation Serif" font-weight="bold" font-size="22.56">0</text><text transform="translate(710.61,880.77) scale(0.828,1)" font-family="Liberation Serif" font-weight="bold" font-size="22.56">6</text><text transform="translate(720.63,880.77) scale(0.828,1)" font-family="Liberation Serif" font-weight="bold" font-size="22.56">1</text><text transform="translate(731.30,880.77) scale(0.828,1)" font-family="Liberation Serif" font-weight="bold" font-size="22.56">4</text>
<text transform="translate(1198.70,897.32) scale(0.1627,0.1838)" font-family="Liberation Mono" font-weight="normal" font-size="100" stroke="#000" stroke-width="3">REFER TO</text>
<text transform="translate(1198.42,914.79) scale(0.1758,0.2059)" font-family="Liberation Mono" font-weight="normal" font-size="100" stroke="#000" stroke-width="3">FIG</text>
<text transform="translate(1237.08,914.79) scale(0.1834,0.2059)" font-family="Liberation Mono" font-weight="bold" font-size="100">87-16</text>
<text transform="translate(1201.39,929.82) scale(0.1534,0.1838)" font-family="Liberation Mono" font-weight="normal" font-size="100" stroke="#000" stroke-width="3">(PNC 87246)</text>
<text transform="translate(143.72,1023.81) scale(0.1778,0.1859)" font-family="Liberation Sans" font-weight="normal" font-size="100">VEHICLE FRONT SIDE</text>
<text transform="translate(1505.01,1090.09) scale(1.095,1)" font-family="Liberation Serif" font-weight="normal" font-size="20.90" stroke="#000" stroke-width="0.35">1</text><text transform="translate(1516.68,1090.09) scale(1.095,1)" font-family="Liberation Serif" font-weight="normal" font-size="20.90" stroke="#000" stroke-width="0.35">6</text><text transform="translate(1527.89,1090.09) scale(1.095,1)" font-family="Liberation Serif" font-weight="normal" font-size="20.90" stroke="#000" stroke-width="0.35">1</text><text transform="translate(1539.68,1090.09) scale(1.095,1)" font-family="Liberation Serif" font-weight="normal" font-size="20.90" stroke="#000" stroke-width="0.35">4</text><text transform="translate(1551.12,1090.09) scale(1.095,1)" font-family="Liberation Serif" font-weight="normal" font-size="20.90" stroke="#000" stroke-width="0.35">0</text><text transform="translate(1562.56,1090.09) scale(1.095,1)" font-family="Liberation Serif" font-weight="normal" font-size="20.90" stroke="#000" stroke-width="0.35">8</text><text transform="translate(1574.50,1090.09) scale(0.768,1)" font-family="Liberation Serif" font-weight="normal" font-size="20.90" stroke="#000" stroke-width="0.35">C</text>
</g>
</svg></body></html>
